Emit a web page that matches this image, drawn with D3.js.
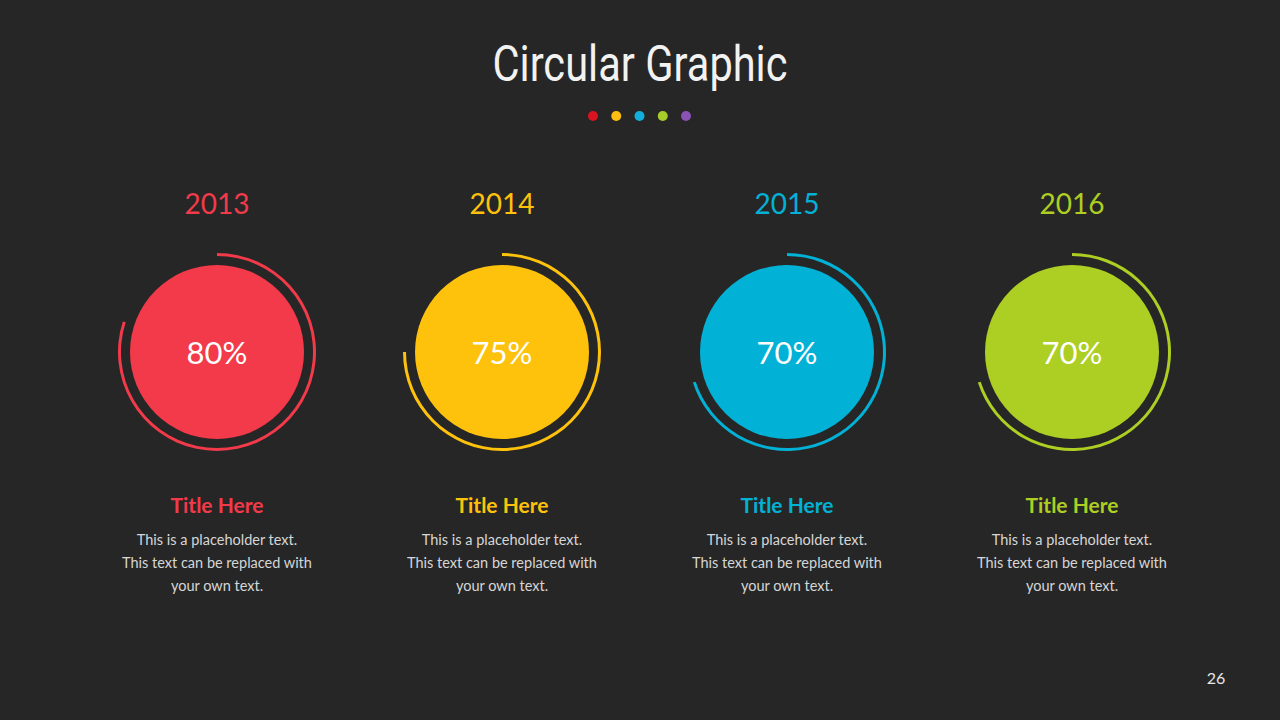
<!DOCTYPE html>
<html>
<head>
<meta charset="utf-8">
<script src="https://cdn.jsdelivr.net/npm/d3@7"></script>
<style>
  html, body { margin: 0; padding: 0; background: #262626; }
  svg { display: block; }
</style>
</head>
<body>
<svg id="chart" width="1280" height="720"></svg>
<script>
// ---- data ----
const years = ["2013", "2014", "2015", "2016"];
const percents = [80, 75, 70, 70];
const colors = ["#F23A4A", "#FEC20C", "#02B1D6", "#ADCE22"];
const titles = ["Title Here", "Title Here", "Title Here", "Title Here"];
const bodyLines = ["This is a placeholder text.", "This text can be replaced with", "your own text."];
const dotColors = ["#D9141F", "#FDBD12", "#13AFDC", "#A6CC2C", "#8A52B2"];
const heading = "Circular Graphic";
const pageNumber = "26";

// ---- layout ----
const W = 1280, H = 720;
const svg = d3.select("#chart");
svg.append("rect").attr("width", W).attr("height", H).attr("fill", "#262626");

const font = "Lato, 'Open Sans', 'Noto Sans', sans-serif";

// heading
svg.append("text")
  .attr("x", 640).attr("y", 81)
  .attr("text-anchor", "middle")
  .attr("font-family", "Roboto, 'Noto Sans', sans-serif")
  .attr("font-size", 50)
  .attr("fill", "#F2F2F2")
  .attr("textLength", 295)
  .attr("lengthAdjust", "spacingAndGlyphs")
  .text(heading);

// dots
const dotX = d3.scalePoint().domain(d3.range(dotColors.length)).range([593, 686]);
svg.selectAll("circle.dot").data(dotColors).join("circle")
  .attr("class", "dot")
  .attr("cx", (d, i) => dotX(i))
  .attr("cy", 116)
  .attr("r", 5)
  .attr("fill", d => d);

// items
const x = d3.scalePoint().domain(years).range([217, 1072]);
const angle = d3.scaleLinear().domain([0, 100]).range([0, 2 * Math.PI]);
const cy = 352;
const arc = d3.arc().innerRadius(96).outerRadius(99).startAngle(0);

const items = years.map((y, i) => ({ year: y, pct: percents[i], color: colors[i], title: titles[i] }));

const g = svg.selectAll("g.item").data(items).join("g")
  .attr("class", "item")
  .attr("transform", d => `translate(${x(d.year)},0)`);

g.append("text")
  .attr("y", 214)
  .attr("text-anchor", "middle")
  .attr("font-family", font)
  .attr("font-size", 28)
  .attr("fill", d => d.color)
  .text(d => d.year);

g.append("circle")
  .attr("cy", cy)
  .attr("r", 87)
  .attr("fill", d => d.color);

g.append("path")
  .attr("transform", `translate(0,${cy})`)
  .attr("d", d => arc({ endAngle: angle(d.pct) }))
  .attr("fill", d => d.color);

g.append("text")
  .attr("y", 364)
  .attr("text-anchor", "middle")
  .attr("font-family", font)
  .attr("font-size", 31)
  .attr("fill", "#FFFFFF")
  .text(d => d.pct + "%");

g.append("text")
  .attr("y", 513)
  .attr("text-anchor", "middle")
  .attr("font-family", font)
  .attr("font-weight", "bold")
  .attr("font-size", 21)
  .attr("fill", d => d.color)
  .text(d => d.title);

bodyLines.forEach((line, li) => {
  g.append("text")
    .attr("y", 545 + li * 23)
    .attr("text-anchor", "middle")
    .attr("font-family", font)
    .attr("font-size", 14.5)
    .attr("fill", "#D6D6D6")
    .text(line);
});

// page number
svg.append("text")
  .attr("x", 1216).attr("y", 684)
  .attr("text-anchor", "middle")
  .attr("font-family", font)
  .attr("font-size", 16)
  .attr("fill", "#E6E6E6")
  .text(pageNumber);
</script>
</body>
</html>
